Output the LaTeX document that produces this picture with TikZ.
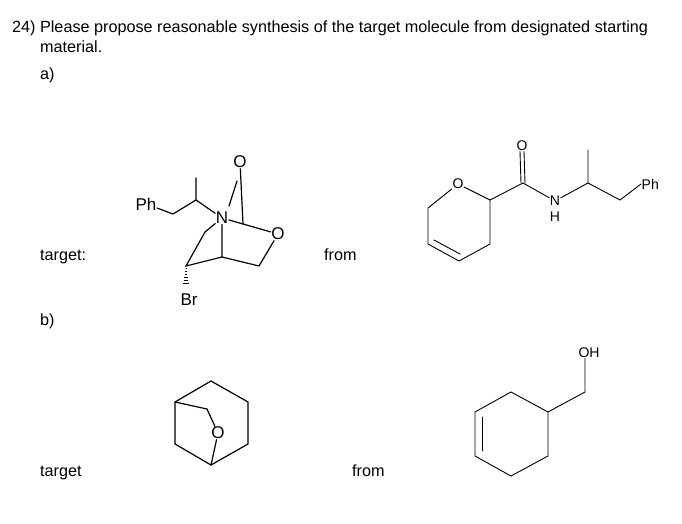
\documentclass[tikz,border=0pt]{standalone}
\usepackage{fontspec}
\setmainfont{Liberation Sans}
\begin{document}
\begin{tikzpicture}[x=1pt,y=-1pt,
  txt/.style={anchor=base west,inner sep=0pt,font=\fontsize{16.2}{18}\selectfont},
  atom/.style={inner sep=0.5pt,fill=white,font=\fontsize{17}{19}\selectfont},
  satom/.style={inner sep=0.5pt,fill=white,font=\fontsize{14}{16}\selectfont},
  bd/.style={line width=1.2pt,line cap=round},
  sbd/.style={line width=0.9pt,line cap=round}]
\useasboundingbox (0,0) rectangle (682,524);
\node[txt] (t1) at (12,33) {24) Please propose reasonable synthesis of the target molecule from designated starting};
\node[txt] (t2) at (40,53) {material.};
\node[txt] (t3) at (40,80) {a)};
\node[txt] (t4) at (40,260) {target:};
\node[txt] (t5) at (324,260) {from};
\node[txt] (t6) at (40,325) {b)};
\node[txt] (t7) at (40,476) {target};
\node[txt] (t8) at (352,476) {from};
% ---- a) target
\coordinate (pe) at (157,208);
\coordinate (a1) at (173,214);
\coordinate (a2) at (196,200);
\coordinate (me) at (196,178);
\coordinate (c1) at (243,224);
\coordinate (c2) at (259,266);
\coordinate (c3) at (222,257);
\coordinate (c4) at (186,266);
\coordinate (c5) at (205,232);
\node[atom,anchor=east] (ph1) at (157,204) {Ph};
\node[atom] (n1) at (222,218) {N};
\node[atom] (o1) at (240,162) {O};
\node[atom] (o2) at (278,234) {O};
\node[atom] (br) at (189,300) {Br};
\draw[bd] (pe)--(a1)--(a2)--(me);
\draw[bd] (a2)--(n1);
\draw[bd] (n1)--(c1)--(o2)--(c2)--(c3)--(n1);
\draw[bd] (c3)--(c4)--(c5)--(n1);
\draw[bd] (c1)--(o1);
\draw[bd] (229,206)--(237,181);
\foreach \i in {0,...,5}{\draw[line width=0.9pt] ({186-0.5-\i*0.45},{268+\i*3}) -- ({186+0.5+\i*0.45},{268+\i*3});}
% ---- a) start
\coordinate (s2) at (490,200);
\coordinate (s3) at (490,244);
\coordinate (s4) at (459,261);
\coordinate (s5) at (428,244);
\coordinate (s6) at (428,208);
\coordinate (sc) at (523,183);
\coordinate (sh) at (588,183);
\coordinate (sm) at (588,150);
\coordinate (sk) at (620,200);
\node[satom] (so) at (458,184) {O};
\node[satom] (so2) at (522,146) {O};
\node[satom] (sn) at (555,201) {N};
\node[satom] (shh) at (555,217) {H};
\node[satom,anchor=west] (sph) at (641,184) {Ph};
\draw[sbd] (so)--(s2)--(s3)--(s4)--(s5)--(s6)--(so);
\draw[sbd] (460,254)--(434,240);
\draw[sbd] (s2)--(sc)--(sn)--(sh)--(sm);
\draw[sbd] (sh)--(sk)--(sph.west);
\draw[sbd] ([xshift=-2pt]sc)--([xshift=-2pt]so2.south);
\draw[sbd] ([xshift=2pt]sc)--([xshift=2pt]so2.south);
% ---- b) target
\coordinate (h1) at (211,381);
\coordinate (h2) at (248,402);
\coordinate (h3) at (248,444);
\coordinate (h4) at (211,465);
\coordinate (h5) at (175,444);
\coordinate (h6) at (175,402);
\coordinate (hb) at (207,409);
\node[atom] (ho) at (218,433) {O};
\draw[bd] (h1)--(h2)--(h3)--(h4)--(h5)--(h6)--cycle;
\draw[bd] (h6)--(hb)--(ho)--(h4);
% ---- b) start
\coordinate (k1) at (548,412);
\coordinate (k2) at (511,392);
\coordinate (k3) at (475,412);
\coordinate (k4) at (475,456);
\coordinate (k5) at (511,476);
\coordinate (k6) at (548,456);
\coordinate (kc) at (585,392);
\node[satom] (koh) at (589,353) {OH};
\draw[sbd] (k1)--(k2)--(k3)--(k4)--(k5)--(k6)--cycle;
\draw[sbd] (482,417)--(482,451);
\draw[sbd] (k1)--(kc)--(kc|-koh.south);
\end{tikzpicture}
\end{document}
